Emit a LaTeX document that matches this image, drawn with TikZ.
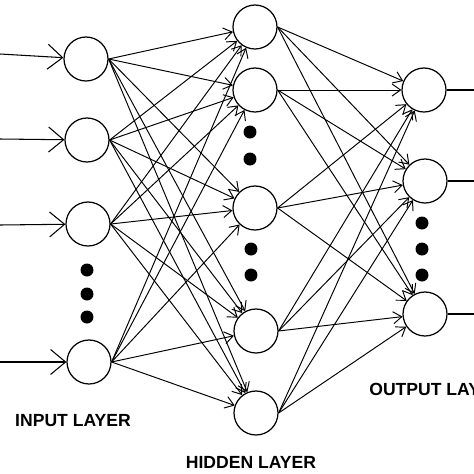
\documentclass[tikz,border=0pt]{standalone}
\usepackage{fontspec}
\setmainfont{Liberation Sans}
\usetikzlibrary{arrows.meta}
\begin{document}
\begin{tikzpicture}[x=0.02cm,y=-0.02cm,
  neuron/.style={circle,draw,line width=0.7pt,minimum size=0.88cm,inner sep=0pt},
  dotn/.style={circle,fill,minimum size=0.26cm,inner sep=0pt},
  inarrow/.style={line width=0.6pt,-{Straight Barb[length=0.3cm,width=0.5cm,line width=0.6pt]}},
  link/.style={line width=0.55pt,-{Straight Barb[length=0.17cm,width=0.24cm,line width=0.55pt]}},
  outline/.style={line width=0.6pt},
  lbl/.style={font=\fontsize{10}{12}\selectfont\bfseries,inner sep=0pt}
]
\useasboundingbox (0,0) rectangle (474,474);
\clip (0,0) rectangle (474,474);
% input layer
\node[neuron] (i1) at (86,59) {};
\node[neuron] (i2) at (87,140) {};
\node[neuron] (i3) at (88,224) {};
\node[neuron] (i4) at (89,362) {};
% hidden layer
\node[neuron] (h1) at (255,27) {};
\node[neuron] (h2) at (255,90) {};
\node[neuron] (h3) at (255,208) {};
\node[neuron] (h4) at (256,331) {};
\node[neuron] (h5) at (256,413) {};
% output layer
\node[neuron] (o1) at (424,90) {};
\node[neuron] (o2) at (425,181) {};
\node[neuron] (o3) at (425,314) {};
% dots
\node[dotn] (di1) at (87,270) {};
\node[dotn] (di2) at (87,294) {};
\node[dotn] (di3) at (87,317) {};
\node[dotn] (dh1) at (250,132) {};
\node[dotn] (dh2) at (250,159) {};
\node[dotn] (dh3) at (251,249) {};
\node[dotn] (dh4) at (251,275) {};
\node[dotn] (do1) at (422,223) {};
\node[dotn] (do2) at (422,249) {};
\node[dotn] (do3) at (422,275) {};
% input arrows
\coordinate (x1) at (0,54);
\coordinate (x2) at (0,139);
\coordinate (x3) at (0,225);
\coordinate (x4) at (0,362);
\foreach \k in {1,2,3,4} \draw[inarrow] (x\k) -- (i\k);
% output lines
\coordinate (y1) at (474,90);
\coordinate (y2) at (474,181);
\coordinate (y3) at (474,314);
\foreach \k in {1,2,3} \draw[outline] (o\k.east) -- (y\k);
% connections
\foreach \a in {1,2,3,4} \foreach \b in {1,2,3,4,5} \draw[link] (i\a.east) -- (h\b);
\foreach \a in {1,2,3,4,5} \foreach \b in {1,2,3} \draw[link] (h\a.east) -- (o\b);
% labels
\node[lbl] (li) at (73,421) {INPUT LAYER};
\node[lbl] (lh) at (251,462) {HIDDEN LAYER};
\node[lbl,anchor=west] (lo) at (369,389) {OUTPUT LAYER};
\end{tikzpicture}
\end{document}
